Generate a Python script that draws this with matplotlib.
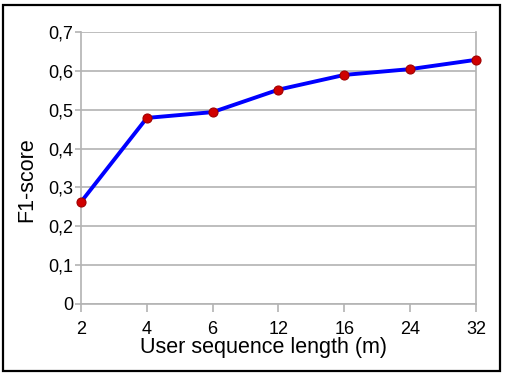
import matplotlib
matplotlib.use("Agg")
import matplotlib.pyplot as plt
from matplotlib.patches import Rectangle

# data
seq_len = ["2", "4", "6", "12", "16", "24", "32"]
f1 = [0.262, 0.479, 0.494, 0.552, 0.590, 0.605, 0.629]
y_ticks = [0, 0.1, 0.2, 0.3, 0.4, 0.5, 0.6, 0.7]
y_labels = ["0", "0,1", "0,2", "0,3", "0,4", "0,5", "0,6", "0,7"]

plt.rcParams['font.family'] = ['Liberation Sans', 'DejaVu Sans']

fig = plt.figure(figsize=(5.06, 3.77), dpi=100)
ax = fig.add_axes([81/506, 73.5/377, 395/506, 271.2/377])

x = list(range(len(seq_len)))
ax.plot(x, f1, color='#0000ff', linewidth=2.8, zorder=3, clip_on=False,
        marker='o', markersize=6.5, markerfacecolor='#d00000',
        markeredgecolor='#a00000', markeredgewidth=0.8)

ax.set_xlim(0, len(seq_len) - 1)
ax.set_ylim(0, 0.7)
ax.set_xticks(x)
ax.set_xticklabels(seq_len)
ax.set_yticks(y_ticks)
ax.set_yticklabels(y_labels)

gray = '#b3b3b3'
ax.grid(axis='y', color=gray, linewidth=1.2)
ax.set_axisbelow(True)
for side in ['left', 'bottom', 'right']:
    ax.spines[side].set_color(gray)
    ax.spines[side].set_linewidth(1.2)
ax.spines['top'].set_visible(False)
ax.tick_params(axis='both', colors=gray, width=1.2, labelsize=13,
               labelcolor='black', direction='out')
ax.tick_params(axis='y', length=4.3, pad=1.5)
ax.tick_params(axis='x', length=6, pad=6.5)

ax.set_xlabel("User sequence length (m)", fontsize=15.5)
ax.set_ylabel("F1-score", fontsize=15.5)
ax.xaxis.set_label_coords(0.463, -0.122)
ax.yaxis.set_label_coords(-0.110, 0.456)

# outer frame
fig.patches.append(Rectangle((3.5/506, 6/377), 496.5/506, 366.5/377,
                             transform=fig.transFigure, fill=False,
                             edgecolor='black', linewidth=1.6))

fig.savefig("out.png", dpi=100)
